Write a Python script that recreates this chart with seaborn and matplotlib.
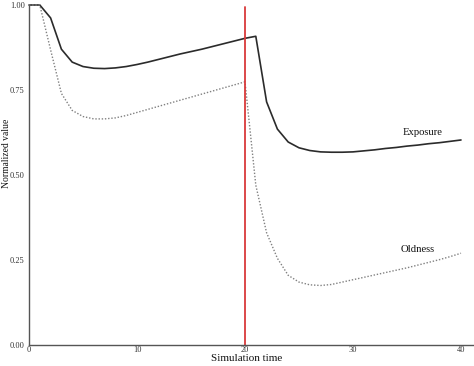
import matplotlib
matplotlib.use("Agg")
import matplotlib.pyplot as plt
import seaborn as sns
import pandas as pd

time = list(range(0, 41))
exposure = [1.0, 1.0, 0.962, 0.87, 0.832, 0.819, 0.814, 0.813, 0.815, 0.819,
            0.825, 0.832, 0.840, 0.848, 0.856, 0.863, 0.870, 0.878, 0.886, 0.894,
            0.902, 0.908, 0.715, 0.635, 0.597, 0.580, 0.572, 0.568, 0.567, 0.567,
            0.568, 0.571, 0.574, 0.578, 0.581, 0.585, 0.588, 0.592, 0.595, 0.599,
            0.603]
oldness = [1.0, 1.0, 0.868, 0.74, 0.69, 0.672, 0.665, 0.665, 0.668, 0.675,
           0.684, 0.693, 0.702, 0.711, 0.720, 0.729, 0.738, 0.747, 0.756, 0.765,
           0.774, 0.47, 0.33, 0.255, 0.205, 0.185, 0.177, 0.175, 0.178, 0.185,
           0.192, 0.199, 0.206, 0.213, 0.220, 0.227, 0.235, 0.243, 0.251, 0.260,
           0.270]
xticks = [0, 10, 20, 30, 40]
yticks = [0.0, 0.25, 0.5, 0.75, 1.0]
event_time = 20

sns.set_theme(style="white")
plt.rcParams['font.family'] = ['Liberation Serif', 'DejaVu Serif']

df = pd.DataFrame({"time": time, "Exposure": exposure, "Oldness": oldness})

fig = plt.figure(figsize=(4.74, 3.66), dpi=100)
ax = fig.add_axes([29/474, 21/366, 445/474, 340/366])

sns.lineplot(data=df, x="time", y="Exposure", ax=ax, color="#2b2b2b", lw=1.2, clip_on=False)
sns.lineplot(data=df, x="time", y="Oldness", ax=ax, color="#808080", lw=1.0,
             linestyle=(0, (1, 1.3)), clip_on=False)
ax.axvline(event_time, color="#d9393a", lw=1.3, ymax=0.995)

ax.set_xlim(0, 445/10.8)
ax.set_ylim(0, 1)
ax.set_xticks(xticks)
ax.set_xticklabels([str(t) for t in xticks])
ax.set_yticks(yticks)
ax.set_yticklabels([f"{v:.2f}" for v in yticks])

for s in ["top", "right"]:
    ax.spines[s].set_visible(False)
for s in ["left", "bottom"]:
    ax.spines[s].set_color("#555555")
    ax.spines[s].set_linewidth(1.0)

ax.tick_params(axis="y", length=2, width=0.8, colors="#555555", labelsize=6, pad=1, labelcolor="#333333")
ax.tick_params(axis="x", length=0, labelsize=6, pad=1, labelcolor="#333333")

ax.set_xlabel("Simulation time", fontsize=8, color="#111111")
ax.set_ylabel("Normalized value", fontsize=6.9, color="#111111")
ax.yaxis.set_label_coords(-0.040, 0.565)
ax.xaxis.set_label_coords(0.49, -0.026)

ax.text(36.4, 0.626, "Exposure", fontsize=7.7, ha="center", va="center", color="#111111")
ax.text(36.0, 0.282, "Oldness", fontsize=7.7, ha="center", va="center", color="#111111")

fig.savefig("out.png", dpi=100)
